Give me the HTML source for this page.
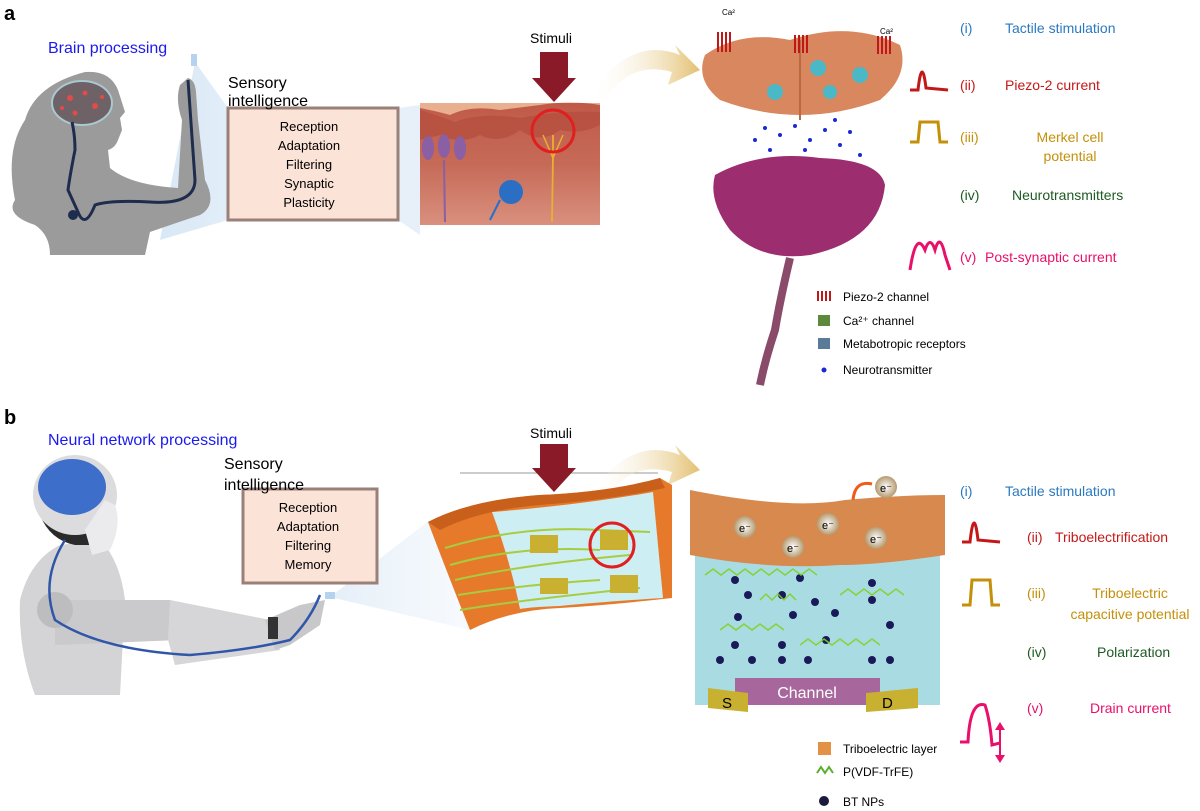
<!DOCTYPE html>
<html><head><meta charset="utf-8"><style>
html,body{margin:0;padding:0;background:#fff}
svg{display:block}
text{font-family:"Liberation Sans",sans-serif}
</style></head><body>
<svg width="1200" height="811" viewBox="0 0 1200 811" xmlns="http://www.w3.org/2000/svg">
<defs>
<linearGradient id="beam" x1="0" x2="1"><stop offset="0" stop-color="#cfe2f3" stop-opacity=".8"/><stop offset="1" stop-color="#e8f1fa" stop-opacity=".5"/></linearGradient>
<linearGradient id="yel" x1="0" x2="1"><stop offset="0" stop-color="#fff" stop-opacity="0"/><stop offset="1" stop-color="#e3c070"/></linearGradient>
<linearGradient id="skin" x1="0" y1="0" x2="0" y2="1"><stop offset="0" stop-color="#c05a48"/><stop offset=".5" stop-color="#c66a58"/><stop offset="1" stop-color="#d9907e"/></linearGradient>
<radialGradient id="el"><stop offset="0" stop-color="#fff"/><stop offset="1" stop-color="#b59a70"/></radialGradient>
</defs>
<text x="4" y="20" font-size="20" font-weight="bold">a</text>
<text x="4" y="424" font-size="20" font-weight="bold">b</text>

<!-- panel a woman -->
<polygon points="195,62 228,108 398,108 398,220 228,220 160,240" fill="url(#beam)"/>
<polygon points="398,108 420,105 420,235 398,220" fill="#dde9f5" opacity=".7"/>
<path d="M85,72 Q110,70 118,90 L125,112 L120,118 L122,130 L118,140 Q115,148 108,150 L110,168 Q130,185 178,188 L182,120 Q175,100 180,85 L188,78 Q195,80 196,92 L198,120 L205,180 Q218,205 200,215 Q170,225 150,232 L145,255 L50,255 Q50,235 35,225 Q5,215 15,200 Q5,150 25,120 Q35,85 85,72Z" fill="#9b9b9b"/>
<ellipse cx="82" cy="103" rx="30" ry="22" fill="#6e6266" stroke="#a9c8cf" stroke-width="2"/>
<g fill="#e34a4a"><circle cx="70" cy="98" r="3"/><circle cx="85" cy="93" r="2.5"/><circle cx="95" cy="106" r="3"/><circle cx="75" cy="113" r="2.5"/><circle cx="102" cy="97" r="2"/><circle cx="62" cy="108" r="2"/></g>
<path d="M72,122 Q75,135 75,150 Q70,175 68,190 L78,212 Q85,230 95,205 Q110,200 150,202 Q195,205 195,180 L188,80" stroke="#1e2c4d" stroke-width="3" fill="none"/>
<circle cx="73" cy="215" r="5" fill="#1e2c4d"/>
<rect x="191" y="54" width="6" height="12" fill="#b5d3ef"/>
<text x="48" y="53" font-size="16" fill="#1a1aee">Brain processing</text>
<rect x="228" y="108" width="170" height="112" fill="#fbe3d8" stroke="#9a8078" stroke-width="3"/>
<text x="228" y="88" font-size="16">Sensory</text>
<text x="228" y="106" font-size="16">intelligence</text>
<g font-size="13" text-anchor="middle"><text x="309" y="131">Reception</text><text x="309" y="150">Adaptation</text><text x="309" y="169">Filtering</text><text x="309" y="188">Synaptic</text><text x="309" y="207">Plasticity</text></g>

<!-- skin -->
<rect x="420" y="103" width="180" height="122" fill="url(#skin)"/>
<path d="M420,108 Q440,112 450,115 Q470,105 500,110 L540,105 Q570,100 600,105 L600,103 L420,103Z" fill="#e8b090"/>
<path d="M420,110 Q445,118 455,122 Q480,112 520,118 Q560,110 600,112 L600,125 Q580,135 560,130 Q540,145 520,130 Q500,145 480,135 Q460,145 440,135 L420,140Z" fill="#b04a3a" opacity=".6"/>
<ellipse cx="428" cy="148" rx="6" ry="12" fill="#8a5fa3"/><ellipse cx="444" cy="146" rx="6" ry="12" fill="#8a5fa3"/><ellipse cx="460" cy="148" rx="6" ry="12" fill="#8a5fa3"/>
<path d="M444,160 L445,222" stroke="#8a5fa3" stroke-width="2"/>
<circle cx="511" cy="192" r="12" fill="#2a6fc4"/>
<path d="M500,200 L490,220" stroke="#2a6fc4" stroke-width="2"/>
<path d="M553,135 L553,155 L552,222" stroke="#e8b030" stroke-width="1.8" fill="none"/>
<path d="M543,135 L553,158 L563,135" stroke="#e8b030" stroke-width="1.5" fill="none"/>
<circle cx="553" cy="131" r="21" fill="none" stroke="#e02020" stroke-width="3"/>
<text x="530" y="43" font-size="14">Stimuli</text>
<polygon points="540,52 568,52 568,78 576,78 554,102 532,78 540,78" fill="#8b1a28"/>
<path d="M590,95 Q630,35 680,55 L675,45 L700,70 L668,85 L672,72 Q630,60 605,100Z" fill="url(#yel)"/>

<!-- cell a -->
<path d="M705,55 Q740,30 790,40 Q850,20 900,45 Q910,75 880,100 Q800,130 720,100 Q695,80 705,55Z" fill="#d9875f"/>
<path d="M800,40 L800,120" stroke="#b86a45" stroke-width="2"/>
<g fill="#4bb8c8"><circle cx="775" cy="92" r="8"/><circle cx="818" cy="68" r="8"/><circle cx="860" cy="75" r="8"/><circle cx="830" cy="92" r="7"/></g>
<g stroke="#c01818" stroke-width="2" fill="none"><path d="M718,32 l0,20 M722,32 l0,20 M726,32 l0,20 M730,32 l0,20"/><path d="M795,35 l0,18 M799,35 l0,18 M803,35 l0,18 M807,35 l0,18"/><path d="M878,36 l0,18 M882,36 l0,18 M886,36 l0,18 M890,36 l0,18"/></g>
<text x="722" y="15" font-size="8">Ca²</text><text x="880" y="34" font-size="8">Ca²</text>
<g fill="#1a2ad0"><circle cx="765" cy="128" r="2"/><circle cx="780" cy="135" r="2"/><circle cx="795" cy="126" r="2"/><circle cx="810" cy="140" r="2"/><circle cx="825" cy="130" r="2"/><circle cx="840" cy="145" r="2"/><circle cx="770" cy="150" r="2"/><circle cx="790" cy="158" r="2"/><circle cx="805" cy="150" r="2"/><circle cx="820" cy="160" r="2"/><circle cx="850" cy="132" r="2"/><circle cx="835" cy="120" r="2"/><circle cx="755" cy="140" r="2"/><circle cx="860" cy="155" r="2"/></g>
<path d="M715,175 Q760,150 820,158 Q880,160 885,185 Q880,240 810,255 Q760,262 730,230 Q708,200 715,175Z" fill="#9c2e6f"/>
<path d="M790,258 Q780,300 775,330 Q765,360 760,385" stroke="#8a4a6a" stroke-width="8" fill="none"/>

<g font-size="14">
<text x="960" y="33" fill="#2b79c0">(i)</text><text x="1005" y="33" fill="#2b79c0">Tactile stimulation</text>
<text x="960" y="90" fill="#c41818">(ii)</text><text x="1005" y="90" fill="#c41818">Piezo-2 current</text>
<text x="960" y="142" fill="#c4900a">(iii)</text><text x="1070" y="142" fill="#c4900a" text-anchor="middle">Merkel cell</text><text x="1070" y="161" fill="#c4900a" text-anchor="middle">potential</text>
<text x="960" y="200" fill="#1e5a22">(iv)</text><text x="1012" y="200" fill="#1e5a22">Neurotransmitters</text>
<text x="960" y="262" fill="#e8106a">(v)</text><text x="985" y="262" fill="#e8106a">Post-synaptic current</text>
</g>
<path d="M910,90 L918,90 Q922,55 926,88 L948,90" stroke="#c41818" stroke-width="3" fill="none"/>
<path d="M910,142 L918,142 L920,122 L938,122 L940,142 L948,142" stroke="#c4900a" stroke-width="3" fill="none"/>
<path d="M910,270 Q916,230 925,250 Q930,235 935,250 Q940,232 945,255 L950,270" stroke="#e8106a" stroke-width="3" fill="none"/>

<g font-size="12">
<path d="M818,291 l0,10 M822,291 l0,10 M826,291 l0,10 M830,291 l0,10" stroke="#c01818" stroke-width="2"/><text x="843" y="301">Piezo-2 channel</text>
<rect x="818" y="315" width="12" height="11" fill="#5d8a3a"/><text x="843" y="325">Ca²⁺ channel</text>
<rect x="818" y="338" width="12" height="11" fill="#5a7a9a"/><text x="843" y="348">Metabotropic receptors</text>
<circle cx="824" cy="370" r="2.5" fill="#1a2ad0"/><text x="843" y="374">Neurotransmitter</text>
</g>

<!-- panel b robot -->
<polygon points="330,597 430,520 470,630" fill="url(#beam)" opacity=".7"/>
<path d="M20,600 Q30,560 60,545 L100,540 Q120,560 125,600 L120,695 L35,695 Q18,650 20,600Z" fill="#d4d4d7"/>
<path d="M40,515 Q50,540 75,545 L100,545 L110,525 L90,505Z" fill="#2a2a2a"/>
<ellipse cx="75" cy="495" rx="42" ry="40" fill="#dcdcde"/>
<ellipse cx="72" cy="487" rx="34" ry="28" fill="#3d6ec9"/>
<path d="M105,500 L115,505 Q122,525 110,550 L92,555 L85,530Z" fill="#ebebed"/>
<path d="M55,600 L170,600 L180,640 L55,645Z" fill="#cacacd"/>
<path d="M170,600 L270,620 L280,650 L175,665 L168,640Z" fill="#d6d6d9"/>
<path d="M265,620 L300,605 L325,600 L320,625 L290,645 L275,650Z" fill="#c8c8cb"/>
<ellipse cx="55" cy="610" rx="18" ry="18" fill="#bdbdc0"/>
<rect x="268" y="617" width="10" height="22" fill="#333"/>
<path d="M65,540 Q40,580 55,620 Q100,650 190,655 Q250,650 290,640 Q310,620 320,595" stroke="#2f56a8" stroke-width="2.5" fill="none"/>
<rect x="325" y="592" width="10" height="7" fill="#b5d3ef"/>
<text x="48" y="445" font-size="16" fill="#1a1aee">Neural network processing</text>
<rect x="243" y="489" width="134" height="94" fill="#fbe3d8" stroke="#9a8078" stroke-width="3"/>
<text x="224" y="469" font-size="16">Sensory</text>
<text x="224" y="490" font-size="16">intelligence</text>
<g font-size="13" text-anchor="middle"><text x="308" y="512">Reception</text><text x="308" y="531">Adaptation</text><text x="308" y="550">Filtering</text><text x="308" y="569">Memory</text></g>

<!-- device b -->
<line x1="460" y1="473" x2="658" y2="473" stroke="#999" stroke-width="1"/>
<text x="530" y="438" font-size="14">Stimuli</text>
<polygon points="540,444 568,444 568,468 576,468 554,492 532,468 540,468" fill="#8b1a28"/>
<path d="M590,495 Q630,435 680,455 L675,445 L700,470 L668,485 L672,472 Q630,460 605,500Z" fill="url(#yel)"/>
<path d="M428,522 Q470,500 540,495 Q610,492 660,478 L672,485 L672,598 Q610,605 560,608 Q510,610 470,630 Q450,580 428,522Z" fill="#e67a2a"/>
<path d="M428,522 Q470,500 540,495 Q610,492 660,478 L665,488 Q610,500 540,505 Q480,510 440,530Z" fill="#c8601c"/>
<path d="M492,512 Q580,505 653,492 L663,598 Q600,602 560,606 Q530,607 520,609 Q510,560 492,512Z" fill="#cdeef2"/>
<g stroke="#a8cc40" stroke-width="2" fill="none"><path d="M445,548 Q520,525 600,530 L650,532"/><path d="M450,565 Q520,545 600,550"/><path d="M455,580 Q520,565 630,555"/><path d="M458,595 Q520,585 600,580"/><path d="M460,610 Q520,600 640,588"/></g>
<g fill="#c9b030"><rect x="530" y="535" width="28" height="18"/><rect x="600" y="530" width="28" height="20"/><rect x="540" y="578" width="28" height="16"/><rect x="610" y="575" width="28" height="18"/></g>
<circle cx="612" cy="545" r="22" fill="none" stroke="#e02020" stroke-width="3"/>

<!-- block b -->
<rect x="695" y="555" width="245" height="150" fill="#a9dbe3"/>
<g fill="#1a1a5a"><circle cx="735" cy="580" r="4"/><circle cx="748" cy="595" r="4"/><circle cx="738" cy="617" r="4"/><circle cx="782" cy="595" r="4"/><circle cx="793" cy="615" r="4"/><circle cx="800" cy="578" r="4"/><circle cx="815" cy="602" r="4"/><circle cx="835" cy="613" r="4"/><circle cx="872" cy="583" r="4"/><circle cx="872" cy="600" r="4"/><circle cx="890" cy="625" r="4"/><circle cx="735" cy="645" r="4"/><circle cx="782" cy="645" r="4"/><circle cx="826" cy="640" r="4"/><circle cx="720" cy="660" r="4"/><circle cx="752" cy="660" r="4"/><circle cx="782" cy="660" r="4"/><circle cx="808" cy="660" r="4"/><circle cx="872" cy="660" r="4"/><circle cx="890" cy="660" r="4"/></g>
<g stroke="#7ed321" stroke-width="1.5" fill="none" opacity=".9"><path d="M705,575 l8,-6 l8,6 l8,-6 l8,6 l8,-6 l8,6 l8,-6 l8,6 l8,-6 l8,6 l8,-6 l8,6 l8,-6 l8,6"/><path d="M720,630 l8,-6 l8,6 l8,-6 l8,6 l8,-6 l8,6 l8,-6 l8,6"/><path d="M800,645 l8,-6 l8,6 l8,-6 l8,6 l8,-6 l8,6 l8,-6 l8,6 l8,-6 l8,6"/><path d="M840,595 l8,-6 l8,6 l8,-6 l8,6 l8,-6 l8,6 l8,-6 l8,6"/><path d="M760,600 l6,-6 l6,6 l6,-6 l6,6 l6,-6 l6,6"/></g>
<path d="M690,490 Q790,510 845,500 Q900,495 945,495 L945,555 Q880,565 840,565 Q770,570 690,555Z" fill="#d8894e"/>
<g font-size="11" text-anchor="middle">
<circle cx="745" cy="527" r="11" fill="url(#el)"/><text x="745" y="532">e⁻</text>
<circle cx="828" cy="524" r="11" fill="url(#el)"/><text x="828" y="529">e⁻</text>
<circle cx="793" cy="547" r="11" fill="url(#el)"/><text x="793" y="552">e⁻</text>
<circle cx="876" cy="538" r="11" fill="url(#el)"/><text x="876" y="543">e⁻</text>
<circle cx="886" cy="487" r="11" fill="url(#el)"/><text x="886" y="492">e⁻</text>
</g>
<path d="M872,484 Q855,480 853,500" stroke="#f05a1a" stroke-width="3" fill="none"/>
<rect x="735" y="678" width="145" height="27" fill="#a8679c"/>
<text x="807" y="698" font-size="16" fill="#fff" text-anchor="middle">Channel</text>
<polygon points="708,688 748,693 748,712 708,708" fill="#c8b030"/><text x="722" y="708" font-size="15">S</text>
<polygon points="866,693 918,688 918,708 866,712" fill="#c8b030"/><text x="882" y="708" font-size="15">D</text>

<g font-size="14">
<text x="960" y="496" fill="#2b79c0">(i)</text><text x="1005" y="496" fill="#2b79c0">Tactile stimulation</text>
<text x="1027" y="542" fill="#c41818">(ii)</text><text x="1055" y="542" fill="#c41818">Triboelectrification</text>
<text x="1027" y="598" fill="#c4900a">(iii)</text><text x="1130" y="598" fill="#c4900a" text-anchor="middle">Triboelectric</text><text x="1130" y="619" fill="#c4900a" text-anchor="middle">capacitive potential</text>
<text x="1027" y="657" fill="#1e5a22">(iv)</text><text x="1097" y="657" fill="#1e5a22">Polarization</text>
<text x="1027" y="713" fill="#e8106a">(v)</text><text x="1090" y="713" fill="#e8106a">Drain current</text>
</g>
<path d="M962,542 L970,542 Q974,505 978,540 L1000,542" stroke="#c41818" stroke-width="3" fill="none"/>
<path d="M962,605 L970,605 L972,580 L990,580 L992,605 L1000,605" stroke="#c4900a" stroke-width="3" fill="none"/>
<path d="M960,742 L968,742 Q970,700 985,705 Q990,720 992,745 L1000,743" stroke="#e8106a" stroke-width="3" fill="none"/>
<path d="M1000,725 L1000,760" stroke="#e8106a" stroke-width="2"/><polygon points="995,730 1005,730 1000,722" fill="#e8106a"/><polygon points="995,755 1005,755 1000,763" fill="#e8106a"/>

<g font-size="12">
<rect x="818" y="742" width="13" height="13" fill="#e39145"/><text x="843" y="753">Triboelectric layer</text>
<path d="M817,773 l4,-6 l4,6 l4,-6 l4,6" stroke="#5bae2a" stroke-width="2" fill="none"/><text x="843" y="776">P(VDF-TrFE)</text>
<circle cx="824" cy="801" r="5" fill="#1a1a3a"/><text x="843" y="806">BT NPs</text>
</g>
</svg>
</body></html>
